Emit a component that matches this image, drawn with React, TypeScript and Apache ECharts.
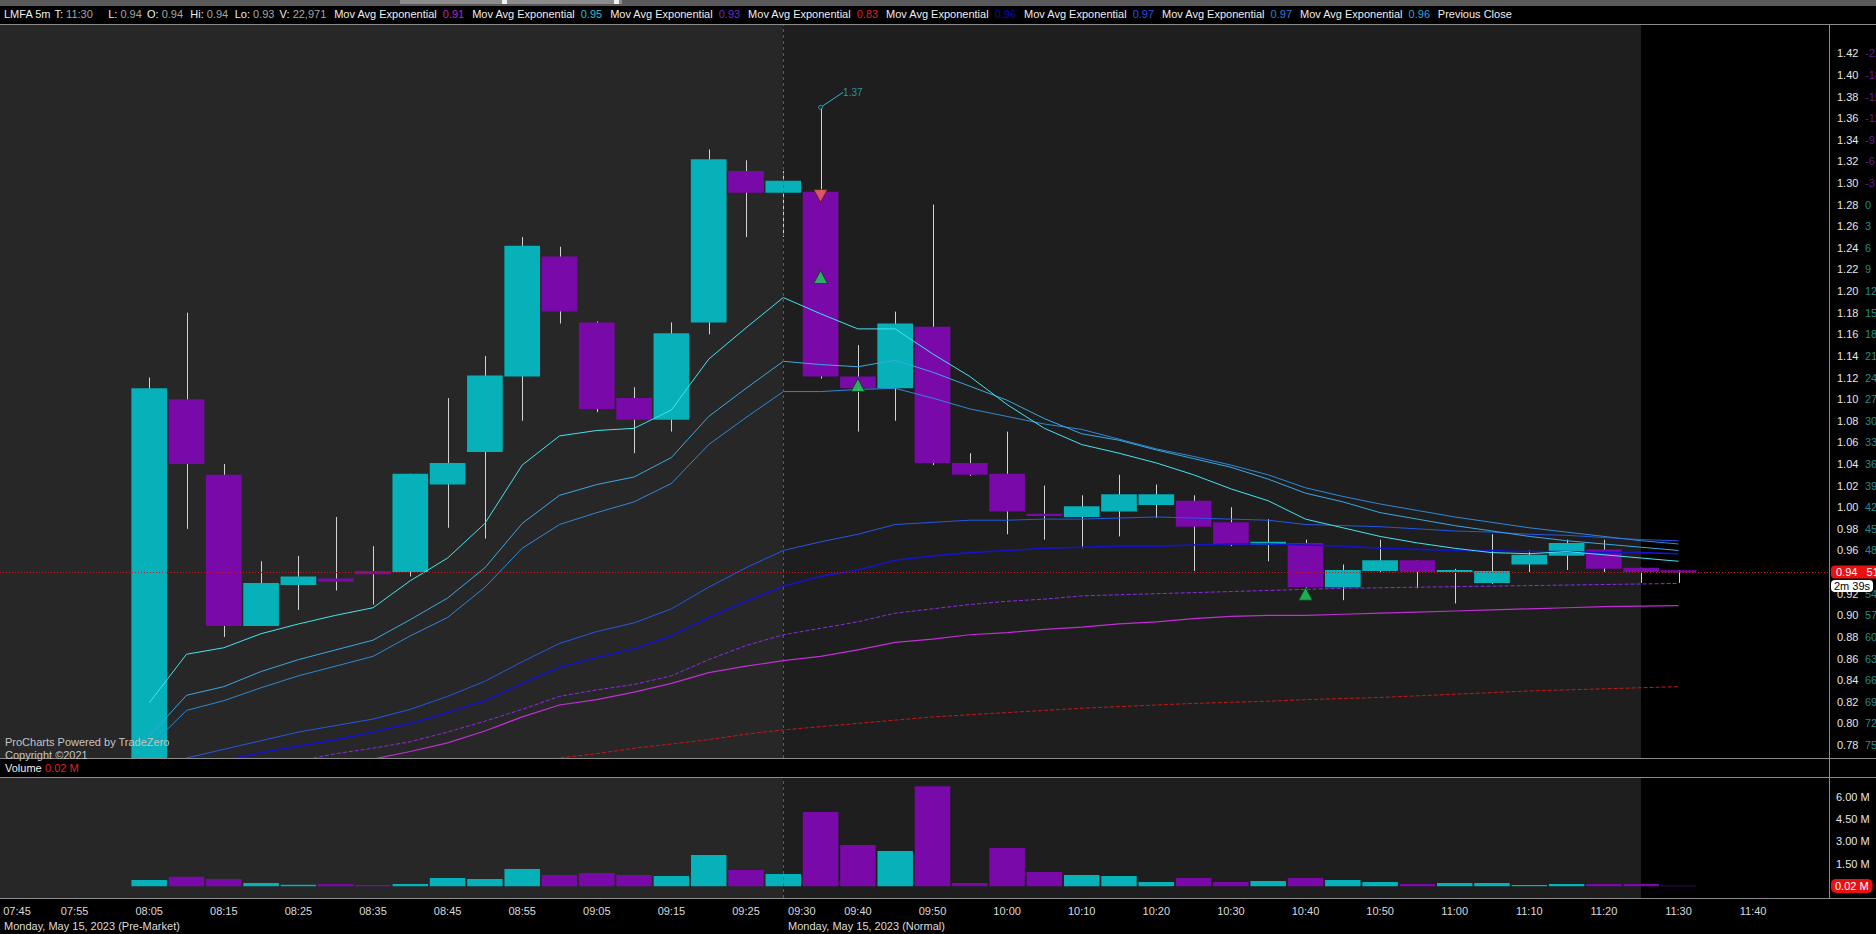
import React, { useEffect, useRef } from 'react';
import * as echarts from 'echarts';

// ---------------- data ----------------
const ticker = 'LMFA';
const barInterval = '5m';
const times = ['08:05','08:10','08:15','08:20','08:25','08:30','08:35','08:40','08:45','08:50','08:55','09:00','09:05','09:10','09:15','09:20','09:25','09:30','09:35','09:40','09:45','09:50','09:55','10:00','10:05','10:10','10:15','10:20','10:25','10:30','10:35','10:40','10:45','10:50','10:55','11:00','11:05','11:10','11:15','11:20','11:25','11:30'];
const opens = [0.74,1.10,1.03,0.89,0.928,0.934,0.941,0.94,1.021,1.051,1.121,1.232,1.171,1.101,1.081,1.171,1.311,1.291,1.292,1.121,1.11,1.167,1.041,1.031,0.994,0.991,0.996,1.002,1.006,0.986,0.965,0.967,0.926,0.941,0.951,0.94,0.93,0.947,0.955,0.961,0.944,0.9418];
const closes = [1.11,1.04,0.89,0.93,0.936,0.931,0.938,1.031,1.041,1.122,1.242,1.181,1.091,1.081,1.161,1.322,1.291,1.302,1.121,1.11,1.17,1.041,1.03,0.996,0.992,1.001,1.012,1.012,0.982,0.965,0.968,0.926,0.942,0.951,0.94,0.942,0.941,0.956,0.967,0.943,0.94,0.9396];
const lows = [0.73,0.98,0.88,0.89,0.905,0.923,0.91,0.936,0.981,0.971,1.08,1.17,1.088,1.05,1.07,1.16,1.25,1.25,1.119,1.07,1.08,1.039,1.029,0.975,0.97,0.962,0.973,0.99,0.941,0.964,0.95,0.925,0.914,0.94,0.925,0.911,0.929,0.94,0.942,0.94,0.93,0.93];
const highs = [1.12,1.18,1.04,0.95,0.955,0.991,0.964,1.031,1.101,1.14,1.25,1.241,1.172,1.111,1.171,1.331,1.321,1.311,1.37,1.15,1.181,1.28,1.05,1.07,1.02,1.011,1.03,1.021,1.011,1.0,0.989,0.97,0.947,0.97,0.951,0.943,0.975,0.96,0.97,0.97,0.944,0.9418];
const volumesM = [0.41,0.64,0.48,0.21,0.10,0.15,0.08,0.15,0.55,0.48,1.15,0.75,0.88,0.75,0.68,2.08,1.08,0.82,4.96,2.75,2.35,6.69,0.21,2.55,0.95,0.75,0.68,0.28,0.55,0.28,0.35,0.55,0.41,0.28,0.15,0.21,0.21,0.08,0.15,0.15,0.15,0.022971];

const emaCyan = [0.819,0.864,0.870,0.883,0.892,0.900,0.907,0.932,0.953,0.985,1.039,1.066,1.071,1.073,1.090,1.137,1.166,1.194,1.179,1.165,1.165,1.142,1.121,1.095,1.073,1.058,1.050,1.041,1.030,1.017,1.006,0.989,0.981,0.973,0.967,0.962,0.958,0.957,0.959,0.956,0.953,0.950];
const emaLight = [0.788,0.826,0.834,0.848,0.859,0.868,0.877,0.896,0.916,0.944,0.985,1.011,1.021,1.028,1.046,1.084,1.110,1.135,1.132,1.130,1.136,1.125,1.112,1.099,1.082,1.068,1.062,1.053,1.045,1.037,1.026,1.013,1.005,0.995,0.989,0.983,0.978,0.973,0.969,0.966,0.963,0.960];
const emaSteel = [0.778,0.812,0.821,0.833,0.844,0.853,0.862,0.881,0.898,0.926,0.962,0.984,0.995,1.005,1.022,1.058,1.083,1.107,1.107,1.109,1.110,1.101,1.091,1.084,1.077,1.072,1.063,1.054,1.047,1.039,1.030,1.018,1.010,1.003,0.997,0.991,0.986,0.981,0.977,0.973,0.969,0.966];
const emaBlue = [0.752,0.768,0.776,0.784,0.792,0.798,0.804,0.813,0.825,0.839,0.857,0.874,0.885,0.893,0.906,0.926,0.944,0.960,0.968,0.975,0.984,0.986,0.988,0.988,0.989,0.989,0.990,0.991,0.990,0.989,0.988,0.984,0.983,0.982,0.980,0.978,0.977,0.975,0.974,0.972,0.970,0.969];
const emaDarkBlue = [0.745,0.757,0.766,0.773,0.779,0.785,0.792,0.800,0.810,0.821,0.837,0.852,0.861,0.869,0.881,0.898,0.913,0.927,0.936,0.942,0.951,0.955,0.958,0.960,0.962,0.963,0.964,0.964,0.965,0.966,0.966,0.965,0.964,0.962,0.961,0.960,0.960,0.959,0.959,0.958,0.958,0.957];
const emaPurple = [0.735,0.744,0.752,0.758,0.765,0.772,0.777,0.783,0.792,0.802,0.813,0.825,0.831,0.836,0.844,0.859,0.872,0.882,0.888,0.894,0.902,0.906,0.910,0.913,0.915,0.918,0.919,0.920,0.921,0.922,0.923,0.924,0.925,0.9255,0.926,0.9265,0.927,0.9275,0.928,0.9285,0.929,0.9295];
const emaMagenta = [0.720,0.729,0.737,0.745,0.752,0.759,0.767,0.774,0.782,0.793,0.806,0.817,0.822,0.829,0.837,0.847,0.853,0.858,0.862,0.868,0.875,0.878,0.882,0.884,0.887,0.889,0.892,0.894,0.897,0.899,0.900,0.900,0.901,0.902,0.903,0.904,0.905,0.906,0.907,0.908,0.9085,0.909];
const emaRed = [0.725,0.730,0.734,0.738,0.742,0.745,0.749,0.752,0.756,0.760,0.764,0.768,0.772,0.777,0.781,0.785,0.790,0.794,0.797,0.800,0.803,0.806,0.808,0.810,0.812,0.814,0.8155,0.817,0.8185,0.8195,0.8205,0.822,0.823,0.824,0.8255,0.827,0.8285,0.830,0.831,0.832,0.833,0.834];

const priceTicks = [0.78,0.80,0.82,0.84,0.86,0.88,0.90,0.92,0.94,0.96,0.98,1.00,1.02,1.04,1.06,1.08,1.10,1.12,1.14,1.16,1.18,1.20,1.22,1.24,1.26,1.28,1.30,1.32,1.34,1.36,1.38,1.40,1.42];
const pctTicks = ['75','72','69','66','63','60','57','54','51','48','45','42','39','36','33','30','27','24','21','18','15','12','9','6','3','0','-3','-6','-9','-12','-15','-18','-21'];
const volTicks = [1.5, 3, 4.5, 6];
const xTicks = ['07:45','07:55','08:05','08:15','08:25','08:35','08:45','08:55','09:05','09:15','09:25','09:30','09:40','09:50','10:00','10:10','10:20','10:30','10:40','10:50','11:00','11:10','11:20','11:30','11:40'];
const sessionOpen = '09:30';
const zoneStarts = ['07:45', '09:30', '11:25'];
const sessionLabels = ['Monday, May 15, 2023 (Pre-Market)', 'Monday, May 15, 2023 (Normal)'];
const buySignals = [{ time: '09:35', price: 1.213 }, { time: '09:40', price: 1.113 }, { time: '10:40', price: 0.92 }];
const sellSignals = [{ time: '09:35', price: 1.288 }];
const countdown = '2m 39s';

// ---------------- styles / layout ----------------
const FONT = '"Liberation Sans", Arial, Helvetica, sans-serif';
const UP = '#06b1b9';
const DOWN = '#7a09a9';
const WICK = '#d2d2d2';
const zoneColors = ['#272727', '#1e1e1e', '#000000'];

const toMin = (s: string) => { const [h, m] = s.split(':').map(Number); return h * 60 + m; };
const fmtTime = (v: number) => {
  const r = Math.round(v); const h = Math.floor(r / 60); const m = r % 60;
  return `${String(h).padStart(2, '0')}:${String(m).padStart(2, '0')}`;
};

const W = 1876, H = 934;
const GRID_LEFT = 0, GRID_RIGHT = 47;
const PLOT_W = W - GRID_LEFT - GRID_RIGHT;
const AXIS_X = W - GRID_RIGHT;
const MAIN_TOP = 25, MAIN_BOTTOM = 758, VOL_TOP = 778, VOL_BOTTOM = 898;
const X_MIN = toMin(xTicks[0]);
const PX_PER_MIN = 7.46;
const X_MAX = X_MIN + PLOT_W / PX_PER_MIN;
const PX_PER_PRICE = 1080.8;
const REF_PRICE = 1.42, REF_PRICE_Y = 53.3;
const Y_MAX = REF_PRICE + (REF_PRICE_Y - MAIN_TOP) / PX_PER_PRICE;
const Y_MIN = REF_PRICE - (MAIN_BOTTOM - REF_PRICE_Y) / PX_PER_PRICE;
const PX_PER_VOL = 14.95, VOL_ZERO_Y = 886.2;
const V_MAX = (VOL_ZERO_Y - VOL_TOP) / PX_PER_VOL;
const V_MIN = -(VOL_BOTTOM - VOL_ZERO_Y) / PX_PER_VOL;
const xPix = (m: number) => GRID_LEFT + (m - X_MIN) * PX_PER_MIN;

const emaDefs = [
  { name: 'EMA red', data: emaRed, color: '#c81818', width: 1, type: [4, 2] },
  { name: 'EMA magenta', data: emaMagenta, color: '#c22ed6', width: 1.2, type: 'solid' },
  { name: 'EMA purple', data: emaPurple, color: '#8a2ee0', width: 1, type: [4, 2] },
  { name: 'EMA dark blue', data: emaDarkBlue, color: '#1414c8', width: 1.6, type: 'solid' },
  { name: 'EMA blue', data: emaBlue, color: '#2458e6', width: 1, type: 'solid' },
  { name: 'EMA steel', data: emaSteel, color: '#2e88d8', width: 1, type: 'solid' },
  { name: 'EMA light', data: emaLight, color: '#3aa8e2', width: 1, type: 'solid' },
  { name: 'EMA cyan', data: emaCyan, color: '#44e4ee', width: 1, type: 'solid' },
];
const headerEmaOrder = [
  { data: emaMagenta, color: '#b824cc' },
  { data: emaCyan, color: '#22c4d2' },
  { data: emaPurple, color: '#7424cc' },
  { data: emaRed, color: '#e02020' },
  { data: emaDarkBlue, color: '#0c0cb0' },
  { data: emaBlue, color: '#2050e0' },
  { data: emaSteel, color: '#2a80da' },
  { data: emaLight, color: '#3aa2da' },
];

function buildOption() {
  const tMin = times.map(toMin);
  const n = times.length;
  const last = n - 1;
  const candleData = times.map((_, i) => [tMin[i], opens[i], closes[i], lows[i], highs[i]]);
  const zoneData = zoneStarts.map((s, i) => [toMin(s), i + 1 < zoneStarts.length ? toMin(zoneStarts[i + 1]) : X_MAX]);
  const openMin = toMin(sessionOpen);

  let hiIdx = 0;
  highs.forEach((h, i) => { if (h > highs[hiIdx]) hiIdx = i; });

  const pctFor = (v: number) => {
    let best = 0;
    priceTicks.forEach((p, i) => { if (Math.abs(p - v) < Math.abs(priceTicks[best] - v)) best = i; });
    return pctTicks[best];
  };

  const zoneRender = (params: any, api: any) => {
    const cs = params.coordSys;
    const x0 = api.coord([api.value(0), 0])[0];
    const x1 = api.coord([api.value(1), 0])[0];
    return { type: 'rect', shape: { x: x0, y: cs.y, width: x1 - x0, height: cs.height }, style: { fill: zoneColors[params.dataIndex] }, silent: true };
  };

  const candleRender = (params: any, api: any) => {
    const t = api.value(0), o = api.value(1), c = api.value(2), l = api.value(3), h = api.value(4);
    const pO = api.coord([t, o]);
    const pC = api.coord([t, c]);
    const pL = api.coord([t, l]);
    const pH = api.coord([t, h]);
    const w = api.size([5, 0])[0] * 0.957;
    const xc = Math.round(pO[0]) + 0.5;
    const top = Math.min(pO[1], pC[1]);
    const hgt = Math.max(Math.abs(pO[1] - pC[1]), 2);
    return {
      type: 'group',
      children: [
        { type: 'line', shape: { x1: xc, y1: pH[1], x2: xc, y2: pL[1] }, style: { stroke: WICK, lineWidth: 1 } },
        { type: 'rect', shape: { x: pO[0] - w / 2, y: top, width: w, height: hgt }, style: { fill: c >= o ? UP : DOWN } },
      ],
    };
  };

  const lastClose = closes[last];
  const lastVol = volumesM[last];

  const emaSeries = emaDefs.map((d) => ({
    type: 'line', name: d.name, xAxisIndex: 0, yAxisIndex: 0,
    data: d.data.map((v, i) => [tMin[i], v]),
    showSymbol: false, symbol: 'none', clip: true, silent: true, z: 4,
    lineStyle: { color: d.color, width: d.width, type: d.type },
  }));

  // header
  const hv = (v: number) => v.toFixed(2);
  const volShares = Math.round(lastVol * 1e6).toLocaleString('en-US');
  const WHITE = '#eeeeee', GREY = '#a6a6a6';
  const headerRich: any = {
    w: { fill: WHITE, fontSize: 11, fontFamily: FONT },
    g: { fill: GREY, fontSize: 11, fontFamily: FONT },
  };
  headerEmaOrder.forEach((e, k) => { headerRich['e' + k] = { fill: e.color, fontSize: 11, fontFamily: FONT }; });
  const headerTokens: any[] = [
    [4, `{w|${ticker} ${barInterval}}`],
    [54.5, `{w|T:} {g|${times[last]}}`],
    [108.2, `{w|L:} {g|${hv(lastClose)}}`],
    [147, `{w|O:} {g|${hv(opens[last])}}`],
    [190.3, `{w|Hi:} {g|${hv(highs[last])}}`],
    [234.7, `{w|Lo:} {g|${hv(lows[last])}}`],
    [279.6, `{w|V:} {g|${volShares}}`],
  ];
  headerEmaOrder.forEach((e, k) => {
    const x = 334.2 + 137.97 * k;
    headerTokens.push([x, '{w|Mov Avg Exponential}']);
    headerTokens.push([x + 108.6, `{e${k}|${hv(e.data[last])}}`]);
  });
  headerTokens.push([1437.8, '{w|Previous Close}']);

  const openX = xPix(openMin);

  const graphic: any[] = [
    { type: 'rect', shape: { x: 0, y: 0, width: W, height: 6 }, style: { fill: '#595959' }, silent: true },
    { type: 'rect', shape: { x: 400, y: 0, width: 222, height: 4 }, style: { fill: '#8c8c8c' }, silent: true },
    { type: 'rect', shape: { x: 502, y: 0, width: 5, height: 4 }, style: { fill: '#f2f2f2' }, silent: true },
    { type: 'rect', shape: { x: 614, y: 0, width: 5, height: 4 }, style: { fill: '#f2f2f2' }, silent: true },
    ...headerTokens.map(([x, text]) => ({
      type: 'text', x, y: 14, silent: true,
      style: { text, rich: headerRich, fontSize: 11, fontFamily: FONT, verticalAlign: 'middle' },
    })),
    { type: 'line', shape: { x1: 0, y1: 24.5, x2: W, y2: 24.5 }, style: { stroke: '#8c8c8c', lineWidth: 1 }, silent: true, z: 50 },
    { type: 'line', shape: { x1: 0, y1: MAIN_BOTTOM + 0.5, x2: W, y2: MAIN_BOTTOM + 0.5 }, style: { stroke: '#8c8c8c', lineWidth: 1 }, silent: true, z: 50 },
    { type: 'line', shape: { x1: 0, y1: VOL_TOP - 0.5, x2: W, y2: VOL_TOP - 0.5 }, style: { stroke: '#8c8c8c', lineWidth: 1 }, silent: true, z: 50 },
    { type: 'line', shape: { x1: 0, y1: VOL_BOTTOM + 0.5, x2: W, y2: VOL_BOTTOM + 0.5 }, style: { stroke: '#8c8c8c', lineWidth: 1 }, silent: true, z: 50 },
    { type: 'line', shape: { x1: AXIS_X + 0.5, y1: 24, x2: AXIS_X + 0.5, y2: VOL_BOTTOM }, style: { stroke: '#8c8c8c', lineWidth: 1 }, silent: true, z: 50 },
    {
      type: 'text', x: 5, y: 768, silent: true, z: 50,
      style: {
        text: `{w|Volume} {r|${lastVol.toFixed(2)} M}`, verticalAlign: 'middle',
        rich: { w: { fill: '#eeeeee', fontSize: 11, fontFamily: FONT }, r: { fill: '#e02020', fontSize: 11, fontFamily: FONT } },
      },
    },
    { type: 'text', x: 5, y: 741.5, silent: true, z: 50, style: { text: 'ProCharts Powered by TradeZero', fill: '#c4c4c4', fontSize: 11, fontFamily: FONT, verticalAlign: 'middle' } },
    { type: 'text', x: 5, y: 755, silent: true, z: 50, style: { text: 'Copyright \u00A92021', fill: '#c4c4c4', fontSize: 11, fontFamily: FONT, verticalAlign: 'middle' } },
    { type: 'text', x: 4, y: 925.5, silent: true, style: { text: sessionLabels[0], fill: '#dcdcdc', fontSize: 11, fontFamily: FONT, verticalAlign: 'middle' } },
    { type: 'text', x: openX + 4.7, y: 925.5, silent: true, style: { text: sessionLabels[1], fill: '#dcdcdc', fontSize: 11, fontFamily: FONT, verticalAlign: 'middle' } },
    {
      type: 'text', x: AXIS_X + 2, y: 586, silent: true, z: 100,
      style: { text: countdown, fill: '#000', backgroundColor: '#ffffff', borderRadius: 4, padding: [1, 3, 0, 3], fontSize: 11, fontFamily: FONT, verticalAlign: 'middle' },
    },
  ];

  const xLabelFmt = (v: number) => {
    const s = fmtTime(v);
    if (Math.abs(v - X_MIN) < 1e-6) return `{first|${s}}`;
    if (Math.abs(v - openMin) < 1e-6) return `{open|${s}}`;
    return s;
  };

  return {
    backgroundColor: '#000',
    animation: false,
    textStyle: { fontFamily: FONT },
    grid: [
      { left: GRID_LEFT, right: GRID_RIGHT, top: MAIN_TOP, height: MAIN_BOTTOM - MAIN_TOP, containLabel: false, outerBoundsMode: 'none' },
      { left: GRID_LEFT, right: GRID_RIGHT, top: VOL_TOP, height: VOL_BOTTOM - VOL_TOP, containLabel: false, outerBoundsMode: 'none' },
    ],
    xAxis: [
      { type: 'value', gridIndex: 0, min: X_MIN, max: X_MAX, show: false },
      {
        type: 'value', gridIndex: 1, min: X_MIN, max: X_MAX,
        axisLine: { show: false }, axisTick: { show: false }, splitLine: { show: false },
        axisLabel: {
          customValues: xTicks.map(toMin), formatter: xLabelFmt, color: '#dadada', fontSize: 11, margin: 7,
          rich: {
            first: { padding: [0, 0, 0, 34], color: '#dadada', fontSize: 11, fontFamily: FONT },
            open: { padding: [0, 0, 0, 37], color: '#dadada', fontSize: 11, fontFamily: FONT },
          },
        },
      },
    ],
    yAxis: [
      {
        type: 'value', gridIndex: 0, position: 'right', min: Y_MIN, max: Y_MAX,
        axisLine: { show: false }, axisTick: { show: false }, splitLine: { show: false },
        axisLabel: { customValues: priceTicks, formatter: (v: number) => v.toFixed(2), color: '#e6e6e6', fontSize: 11, margin: 8 },
      },
      {
        type: 'value', gridIndex: 0, position: 'right', offset: 28, min: Y_MIN, max: Y_MAX,
        axisLine: { show: false }, axisTick: { show: false }, splitLine: { show: false },
        axisLabel: {
          customValues: priceTicks, margin: 8, fontSize: 11,
          formatter: (v: number) => { const s = pctFor(v); return s.startsWith('-') ? `{n|${s}}` : `{p|${s}}`; },
          rich: { n: { color: '#5e1e88', fontSize: 11, fontFamily: FONT }, p: { color: '#1f8c8c', fontSize: 11, fontFamily: FONT } },
        },
      },
      {
        type: 'value', gridIndex: 1, position: 'right', min: V_MIN, max: V_MAX,
        axisLine: { show: false }, axisTick: { show: false }, splitLine: { show: false },
        axisLabel: { customValues: volTicks, formatter: (v: number) => `${v.toFixed(2)} M`, color: '#e6e6e6', fontSize: 11, margin: 7 },
      },
    ],
    series: [
      { type: 'custom', name: 'zonesMain', xAxisIndex: 0, yAxisIndex: 0, renderItem: zoneRender, data: zoneData, z: 0, silent: true },
      { type: 'custom', name: 'zonesVol', xAxisIndex: 1, yAxisIndex: 2, renderItem: zoneRender, data: zoneData, z: 0, silent: true },
      {
        type: 'custom', name: ticker, xAxisIndex: 0, yAxisIndex: 0, renderItem: candleRender, data: candleData,
        encode: { x: 0, y: [1, 2, 3, 4] }, clip: true, z: 2, silent: true,
        markLine: {
          silent: true, symbol: 'none', animation: false,
          data: [
            { xAxis: openMin, lineStyle: { color: '#5a5a5a', type: [3, 3], width: 1 }, label: { show: false } },
            {
              yAxis: lastClose, lineStyle: { color: '#d41414', type: [1, 2], width: 1 },
              label: {
                show: true, position: 'end', distance: 2, formatter: `${lastClose.toFixed(2)}   ${pctFor(lastClose)}`,
                backgroundColor: '#e61212', color: '#ffffff', borderRadius: 4, padding: [1, 6, 1, 5], fontSize: 11, fontFamily: FONT,
              },
            },
          ],
        },
      },
      ...emaSeries,
      {
        type: 'scatter', name: 'buy', xAxisIndex: 0, yAxisIndex: 0, z: 6, silent: true,
        data: buySignals.map((s) => [toMin(s.time), s.price]),
        symbol: 'triangle', symbolSize: [14, 13],
        itemStyle: { color: '#1fd35c', borderColor: '#0b3d1d', borderWidth: 1 },
      },
      {
        type: 'scatter', name: 'sell', xAxisIndex: 0, yAxisIndex: 0, z: 6, silent: true,
        data: sellSignals.map((s) => [toMin(s.time), s.price]),
        symbol: 'triangle', symbolRotate: 180, symbolSize: [14, 13],
        itemStyle: { color: '#f2675a', borderColor: '#5a1a10', borderWidth: 1 },
      },
      {
        type: 'scatter', name: 'high', xAxisIndex: 0, yAxisIndex: 0, z: 6, silent: true,
        data: [[tMin[hiIdx], highs[hiIdx]]],
        symbol: 'circle', symbolSize: 4,
        itemStyle: { color: '#1f2a2c', borderColor: '#2ab8c8', borderWidth: 1 },
        label: { show: true, position: 'right', distance: 4, formatter: highs[hiIdx].toFixed(2), color: '#2ab8c8', fontSize: 10, fontFamily: FONT },
        labelLayout: { dx: 16, dy: -15 },
        labelLine: { show: true, lineStyle: { color: '#2ab8c8', width: 1 } },
      },
      {
        type: 'bar', name: 'Volume', xAxisIndex: 1, yAxisIndex: 2, barWidth: 35.5, z: 2, silent: true,
        data: volumesM.map((v, i) => ({ value: [tMin[i], v], itemStyle: { color: closes[i] >= opens[i] ? UP : DOWN } })),
        markLine: {
          silent: true, symbol: 'none', animation: false,
          data: [
            { xAxis: openMin, lineStyle: { color: '#5a5a5a', type: [3, 3], width: 1 }, label: { show: false } },
            {
              yAxis: lastVol, lineStyle: { color: 'rgba(0,0,0,0)', width: 1 },
              label: {
                show: true, position: 'end', distance: 2, formatter: `${lastVol.toFixed(2)} M`, opacity: 1,
                backgroundColor: '#e61212', color: '#ffffff', borderRadius: 5, padding: [2, 4, 1, 4], fontSize: 11, fontFamily: FONT,
              },
            },
          ],
        },
      },
    ],
    graphic,
  };
}

export default function App() {
  const ref = useRef<HTMLDivElement>(null);
  useEffect(() => {
    if (!ref.current) return;
    const chart = echarts.init(ref.current, null, { renderer: 'svg' });
    chart.setOption(buildOption() as any);
    return () => chart.dispose();
  }, []);
  return (
    <div style={{ position: 'fixed', left: 0, top: 0, width: W, height: H, background: '#000', overflow: 'hidden' }}>
      <div ref={ref} style={{ width: W, height: H }} />
    </div>
  );
}
